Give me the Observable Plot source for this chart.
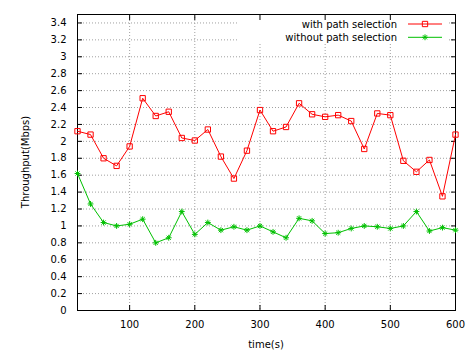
<!DOCTYPE html>
<html><head><meta charset="utf-8">
<script src="https://cdn.jsdelivr.net/npm/d3@7"></script>
<script src="https://cdn.jsdelivr.net/npm/@observablehq/plot@0.6"></script>
<style>body{margin:0;background:#fff} #chart svg{display:block}</style>
</head><body><div id="chart"></div>
<script>
const times = [20,40,60,80,100,120,140,160,180,200,220,240,260,280,300,320,340,360,380,400,420,440,460,480,500,520,540,560,580,600];
const withPath = [2.12,2.08,1.80,1.71,1.94,2.51,2.30,2.35,2.04,2.01,2.14,1.82,1.56,1.89,2.37,2.12,2.17,2.45,2.32,2.29,2.31,2.24,1.91,2.33,2.31,1.77,1.64,1.78,1.35,2.08];
const withoutPath = [1.62,1.26,1.04,1.00,1.02,1.08,0.80,0.86,1.17,0.90,1.04,0.95,0.99,0.95,1.00,0.93,0.86,1.09,1.06,0.91,0.92,0.97,1.00,0.99,0.97,1.00,1.17,0.94,0.98,0.95];
const seriesNames = ["with path selection", "without path selection"];
const seriesColors = ["#ff0000", "#00c000"];
const xTicks = [100,200,300,400,500,600];
const yTicks = [0,0.2,0.4,0.6,0.8,1,1.2,1.4,1.6,1.8,2,2.2,2.4,2.6,2.8,3,3.2,3.4];
const xTitle = "time(s)";
const yTitle = "Throughput(Mbps)";

// gnuplot-style "*" point: plus and cross combined
const symbolStar = {
  draw(context, size) {
    const r = Math.sqrt(size) * 0.55;
    const d = r * Math.SQRT1_2;
    context.moveTo(-r, 0); context.lineTo(r, 0);
    context.moveTo(0, -r); context.lineTo(0, r);
    context.moveTo(-d, -d); context.lineTo(d, d);
    context.moveTo(-d, d); context.lineTo(d, -d);
  }
};
const seriesSymbols = [d3.symbolSquare, symbolStar];

const data = times.flatMap((t, i) => [
  {t, v: withPath[i], s: seriesNames[0]},
  {t, v: withoutPath[i], s: seriesNames[1]}
]);
const fmt = d => String(+d.toFixed(1));
const gridStyle = {stroke: "#a0a0a0", strokeOpacity: 1, strokeDasharray: "1,2"};

const plot = Plot.plot({
  width: 474, height: 355,
  marginLeft: 77, marginRight: 19, marginTop: 14, marginBottom: 45,
  style: {fontFamily: "DejaVu Sans", fontSize: "10px", background: "#fff", color: "#000", overflow: "visible"},
  x: {domain: [20, 600], label: null},
  y: {domain: [0, 3.5], label: null},
  color: {domain: seriesNames, range: seriesColors},
  symbol: {domain: seriesNames, range: seriesSymbols},
  marks: [
    Plot.gridX(xTicks, gridStyle),
    Plot.gridY(yTicks.filter(d => d > 0), gridStyle),
    Plot.axisX(xTicks, {anchor: "bottom", tickSize: -5, tickPadding: 15, label: null, tickFormat: fmt}),
    Plot.axisX(xTicks, {anchor: "top", tickSize: -5, label: null, tickFormat: () => ""}),
    Plot.axisY(yTicks, {anchor: "left", tickSize: -5, tickPadding: 16, label: null, tickFormat: fmt}),
    Plot.axisY(yTicks, {anchor: "right", tickSize: -5, label: null, tickFormat: () => ""}),
    Plot.frame({stroke: "#000", strokeWidth: 1}),
    Plot.line(data, {x: "t", y: "v", z: "s", stroke: "s", strokeWidth: 1}),
    Plot.dot(data, {x: "t", y: "v", stroke: "s", symbol: "s", r: 3, strokeWidth: 1, fill: "none"})
  ]
});
document.getElementById("chart").appendChild(plot);

const svg = d3.select(plot);
// white legend box hiding the grid behind the key
const grids = plot.querySelectorAll("g[aria-label$='grid']");
const lastGrid = grids[grids.length - 1];
const box = document.createElementNS("http://www.w3.org/2000/svg", "rect");
box.setAttribute("x", 238); box.setAttribute("y", 15);
box.setAttribute("width", 211); box.setAttribute("height", 29);
box.setAttribute("fill", "#fff");
lastGrid.after(box);

// legend
const lg = svg.append("g").attr("font-family", "DejaVu Sans").attr("font-size", 10);
const sx = 408, ex = 442, mx = 425;
seriesNames.forEach((name, i) => {
  const y = 24 + i * 13.3;
  lg.append("text").attr("x", 397).attr("y", y).attr("dy", "0.35em").attr("text-anchor", "end").text(name);
  lg.append("line").attr("x1", sx).attr("x2", ex).attr("y1", y).attr("y2", y).attr("stroke", seriesColors[i]);
  const sym = d3.symbol(seriesSymbols[i], Math.PI * 9);
  lg.append("path").attr("d", sym()).attr("transform", `translate(${mx},${y})`)
    .attr("fill", "none").attr("stroke", seriesColors[i]);
});
// axis titles
svg.append("text").attr("x", 266).attr("y", 344).attr("dy", "0.35em").attr("text-anchor", "middle")
  .attr("font-family", "DejaVu Sans").attr("font-size", 10).text(xTitle);
svg.append("text").attr("transform", "translate(25,162) rotate(-90)").attr("dy", "0.35em").attr("text-anchor", "middle")
  .attr("font-family", "DejaVu Sans").attr("font-size", 10).text(yTitle);
</script>
</body></html>
